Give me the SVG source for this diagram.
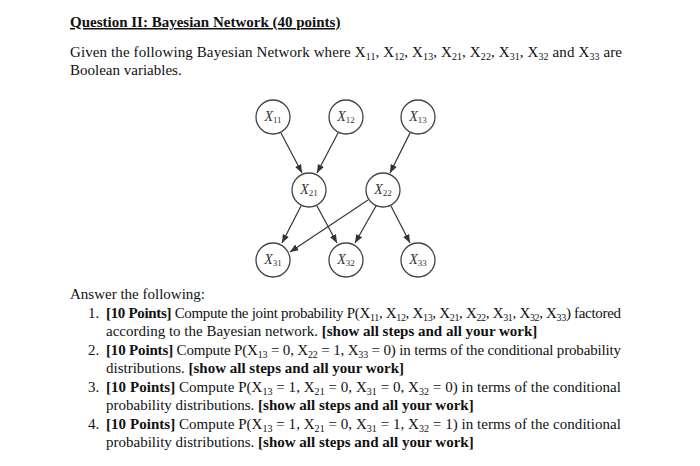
<svg xmlns="http://www.w3.org/2000/svg" width="700" height="466" viewBox="0 0 700 466">
<style>
text{font-family:"Liberation Serif",serif;font-size:15px;fill:#111}
.b{font-weight:bold}
.s{font-size:10px}
.n circle{fill:#fff;stroke:#444;stroke-width:1.3}
.n text{font-style:italic;font-size:14px;text-anchor:middle;fill:#333}
.n tspan{font-style:normal;font-size:9px}
#edges line{stroke:#333;stroke-width:1.2;marker-end:url(#a)}
</style>
<defs><marker id="a" viewBox="0 0 10 10" refX="10" refY="5" markerWidth="7" markerHeight="7" orient="auto"><path d="M0,1 L10,5 L0,9 z" fill="#333"/></marker></defs>
<text x="70" y="27" class="b" text-decoration="underline">Question II: Bayesian Network (40 points)</text>
<text x="70" y="57" textLength="552" lengthAdjust="spacing">Given the following Bayesian Network where X<tspan class="s" dy="3">11</tspan><tspan dy="-3">, X</tspan><tspan class="s" dy="3">12</tspan><tspan dy="-3">, X</tspan><tspan class="s" dy="3">13</tspan><tspan dy="-3">, X</tspan><tspan class="s" dy="3">21</tspan><tspan dy="-3">, X</tspan><tspan class="s" dy="3">22</tspan><tspan dy="-3">, X</tspan><tspan class="s" dy="3">31</tspan><tspan dy="-3">, X</tspan><tspan class="s" dy="3">32</tspan><tspan dy="-3"> and X</tspan><tspan class="s" dy="3">33</tspan><tspan dy="-3"> are</tspan></text>
<text x="70" y="75">Boolean variables.</text>
<g id="edges">
<line x1="281" y1="133" x2="302" y2="173"/>
<line x1="338" y1="133" x2="317" y2="173"/>
<line x1="410" y1="133" x2="390" y2="173"/>
<line x1="301" y1="206" x2="282" y2="243"/>
<line x1="317" y1="206" x2="337" y2="243"/>
<line x1="368" y1="200" x2="290" y2="252"/>
<line x1="376" y1="206" x2="355" y2="243"/>
<line x1="391" y1="206" x2="410" y2="243"/>
</g>
<g id="X11" class="n"><circle cx="273" cy="117" r="17"/><text x="273" y="121">X<tspan dy="2">11</tspan></text></g>
<g id="X12" class="n"><circle cx="346" cy="117" r="17"/><text x="346" y="121">X<tspan dy="2">12</tspan></text></g>
<g id="X13" class="n"><circle cx="418" cy="117" r="17"/><text x="418" y="121">X<tspan dy="2">13</tspan></text></g>
<g id="X21" class="n"><circle cx="309" cy="190" r="17"/><text x="309" y="194">X<tspan dy="2">21</tspan></text></g>
<g id="X22" class="n"><circle cx="383" cy="190" r="17"/><text x="383" y="194">X<tspan dy="2">22</tspan></text></g>
<g id="X31" class="n"><circle cx="273" cy="260" r="17"/><text x="273" y="264">X<tspan dy="2">31</tspan></text></g>
<g id="X32" class="n"><circle cx="346" cy="260" r="17"/><text x="346" y="264">X<tspan dy="2">32</tspan></text></g>
<g id="X33" class="n"><circle cx="418" cy="260" r="17"/><text x="418" y="264">X<tspan dy="2">33</tspan></text></g>
<text x="70" y="299">Answer the following:</text>
<text x="88" y="318">1.</text>
<text x="106" y="318" textLength="515" lengthAdjust="spacing"><tspan class="b">[10 Points]</tspan> Compute the joint probability P(X<tspan class="s" dy="3">11</tspan><tspan dy="-3">, X</tspan><tspan class="s" dy="3">12</tspan><tspan dy="-3">, X</tspan><tspan class="s" dy="3">13</tspan><tspan dy="-3">, X</tspan><tspan class="s" dy="3">21</tspan><tspan dy="-3">, X</tspan><tspan class="s" dy="3">22</tspan><tspan dy="-3">, X</tspan><tspan class="s" dy="3">31</tspan><tspan dy="-3">, X</tspan><tspan class="s" dy="3">32</tspan><tspan dy="-3">, X</tspan><tspan class="s" dy="3">33</tspan><tspan dy="-3">) factored</tspan></text>
<text x="106" y="336">according to the Bayesian network. <tspan class="b">[show all steps and all your work]</tspan></text>
<text x="88" y="355">2.</text>
<text x="106" y="355" textLength="515" lengthAdjust="spacing"><tspan class="b">[10 Points]</tspan> Compute P(X<tspan class="s" dy="3">13</tspan><tspan dy="-3"> = 0, X</tspan><tspan class="s" dy="3">22</tspan><tspan dy="-3"> = 1, X</tspan><tspan class="s" dy="3">33</tspan><tspan dy="-3"> = 0) in terms of the conditional probability</tspan></text>
<text x="106" y="373">distributions. <tspan class="b">[show all steps and all your work]</tspan></text>
<text x="88" y="392">3.</text>
<text x="106" y="392" textLength="515" lengthAdjust="spacing"><tspan class="b">[10 Points]</tspan> Compute P(X<tspan class="s" dy="3">13</tspan><tspan dy="-3"> = 1, X</tspan><tspan class="s" dy="3">21</tspan><tspan dy="-3"> = 0, X</tspan><tspan class="s" dy="3">31</tspan><tspan dy="-3"> = 0, X</tspan><tspan class="s" dy="3">32</tspan><tspan dy="-3"> = 0) in terms of the conditional</tspan></text>
<text x="106" y="410">probability distributions. <tspan class="b">[show all steps and all your work]</tspan></text>
<text x="88" y="429">4.</text>
<text x="106" y="429" textLength="515" lengthAdjust="spacing"><tspan class="b">[10 Points]</tspan> Compute P(X<tspan class="s" dy="3">13</tspan><tspan dy="-3"> = 1, X</tspan><tspan class="s" dy="3">21</tspan><tspan dy="-3"> = 0, X</tspan><tspan class="s" dy="3">31</tspan><tspan dy="-3"> = 1, X</tspan><tspan class="s" dy="3">32</tspan><tspan dy="-3"> = 1) in terms of the conditional</tspan></text>
<text x="106" y="447">probability distributions. <tspan class="b">[show all steps and all your work]</tspan></text>
</svg>
